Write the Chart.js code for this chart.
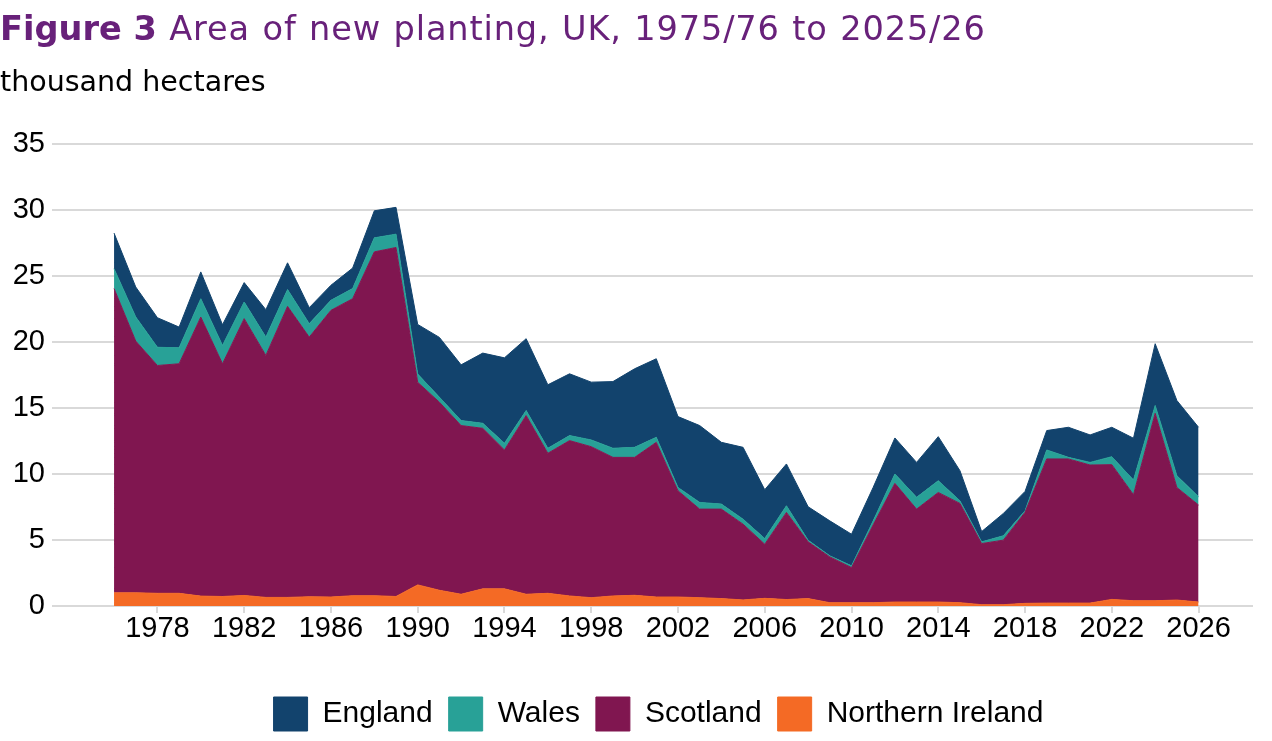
<!DOCTYPE html>
<html><head><meta charset="utf-8">
<script src="https://cdn.jsdelivr.net/npm/chart.js@4/dist/chart.umd.min.js"></script>
<style>
html,body{margin:0;padding:0;background:#fff;}
#wrap{position:relative;width:1272px;height:741px;overflow:hidden;}
canvas{position:absolute;left:0;top:0;}
#title{position:absolute;left:0;top:9px;font-family:"DejaVu Sans";font-size:33.6px;line-height:normal;color:#68217A;white-space:nowrap;}
#title b{font-weight:bold;letter-spacing:0;}
#title span{letter-spacing:0.85px;word-spacing:1px;}
#sub{position:absolute;left:0;top:65px;font-family:"DejaVu Sans";font-size:28.5px;line-height:normal;color:#000;white-space:nowrap;}
</style></head>
<body><div id="wrap"><canvas id="c" width="1272" height="741"></canvas>
<div id="title"><b>Figure 3</b><span> Area of new planting, UK, 1975/76 to 2025/26</span></div>
<div id="sub">thousand hectares</div></div>
<script>
const years = [1976,1977,1978,1979,1980,1981,1982,1983,1984,1985,1986,1987,1988,1989,
  1990,1991,1992,1993,1994,1995,1996,1997,1998,1999,
  2000,2001,2002,2003,2004,2005,2006,2007,2008,2009,
  2010,2011,2012,2013,2014,2015,2016,2017,2018,2019,
  2020,2021,2022,2023,2024,2025,2026];
const england = [2.7,2.27,2.24,1.57,2.03,1.57,1.47,2.08,2.03,1.21,1.14,1.55,2.05,2.03,
  3.76,4.53,4.22,5.32,6.47,5.44,4.81,4.68,4.38,5.05,
  5.95,5.95,5.37,5.82,4.68,5.44,3.7,3.17,2.54,2.65,
  2.4,2.54,2.73,2.65,3.34,2.28,0.78,1.69,1.47,1.47,
  2.28,2.08,2.23,3.17,4.68,5.7,5.26];
const wales = [1.5,1.83,1.38,1.21,1.39,1.39,1.26,1.39,1.27,1.02,0.76,0.77,1.06,1.01,
  0.62,0.38,0.38,0.38,0.51,0.38,0.38,0.38,0.51,0.69,
  0.76,0.38,0.25,0.51,0.38,0.38,0.43,0.5,0.12,0.08,
  0.13,0.3,0.71,0.89,0.89,0.2,0.13,0.33,0.11,0.68,
  0.12,0.2,0.6,1.11,0.59,0.89,0.63];
const scotland = [23.05,19.07,17.26,17.39,21.14,17.63,20.97,18.33,22.05,19.67,21.72,22.5,26.05,26.44,
  15.35,14.25,12.78,12.16,10.52,13.54,10.61,11.77,11.44,10.5,
  10.45,11.72,8.05,6.71,6.78,5.74,4.1,6.6,4.3,3.47,
  2.66,5.9,8.99,7.04,8.3,7.52,4.63,4.89,6.9,10.92,
  10.92,10.46,10.21,8.03,14.2,8.53,7.35];
const northernIreland = [1.0,1.0,0.96,0.96,0.75,0.72,0.8,0.65,0.65,0.7,0.68,0.78,0.78,0.72,
  1.6,1.19,0.89,1.3,1.3,0.89,0.96,0.76,0.63,0.76,
  0.81,0.68,0.68,0.63,0.56,0.46,0.58,0.49,0.56,0.25,
  0.25,0.25,0.3,0.3,0.3,0.25,0.1,0.1,0.2,0.22,
  0.22,0.22,0.5,0.4,0.4,0.45,0.3];
const xTickYears = [1978,1982,1986,1990,1994,1998,2002,2006,2010,2014,2018,2022,2026];
const yTicks = [0,5,10,15,20,25,30,35];

const toPts = arr => years.map((yr, i) => ({x: yr, y: arr[i]}));
const mk = (label, arr, color, fill) => ({
  label, data: toPts(arr), backgroundColor: color, borderColor: color,
  borderWidth: 1, fill, pointRadius: 0, pointHoverRadius: 0, tension: 0
});

const shiftLegend = {
  id: 'shiftLegend',
  afterLayout(chart) {
    if (chart.legend) { chart.legend.left += 32; chart.legend.right += 32; }
  }
};

new Chart(document.getElementById('c'), {
  type: 'line',
  data: {
    datasets: [
      mk('Northern Ireland', northernIreland, '#F46A25', 'origin'),
      mk('Scotland', scotland, '#801650', '-1'),
      mk('Wales', wales, '#28A197', '-1'),
      mk('England', england, '#12436D', '-1')
    ]
  },
  plugins: [shiftLegend],
  options: {
    responsive: false,
    animation: false,
    devicePixelRatio: 1,
    layout: {padding: {top: 144, left: 0, right: 19, bottom: 0}},
    plugins: {
      title: {display: false},
      tooltip: {enabled: false},
      legend: {
        position: 'bottom',
        reverse: true,
        labels: {
          boxWidth: 34, boxHeight: 34, padding: 16, color: '#000',
          font: {family: '"Liberation Sans", Arial, sans-serif', size: 30}
        }
      }
    },
    scales: {
      x: {
        type: 'linear',
        min: 1973.14, max: 2028.51,
        afterBuildTicks: s => { s.ticks = xTickYears.map(v => ({value: v})); },
        afterFit: s => { s.height = 75; },
        ticks: {
          autoSkip: false, maxRotation: 0, padding: -1, color: '#000',
          font: {family: '"Liberation Sans", Arial, sans-serif', size: 29},
          callback: v => String(v)
        },
        grid: {drawOnChartArea: false, drawTicks: true, tickLength: 7, color: '#d9d9d9', lineWidth: 2},
        border: {display: false}
      },
      y: {
        stacked: true,
        min: 0, max: 35,
        afterBuildTicks: s => { s.ticks = yTicks.map(v => ({value: v})); },
        afterFit: s => { s.width = 52; },
        ticks: {
          padding: 7, color: '#000',
          font: {family: '"Liberation Sans", Arial, sans-serif', size: 29},
          callback: v => String(v)
        },
        grid: {drawTicks: false, color: '#d9d9d9', lineWidth: 2},
        border: {display: false}
      }
    }
  }
});
</script>
</body></html>
